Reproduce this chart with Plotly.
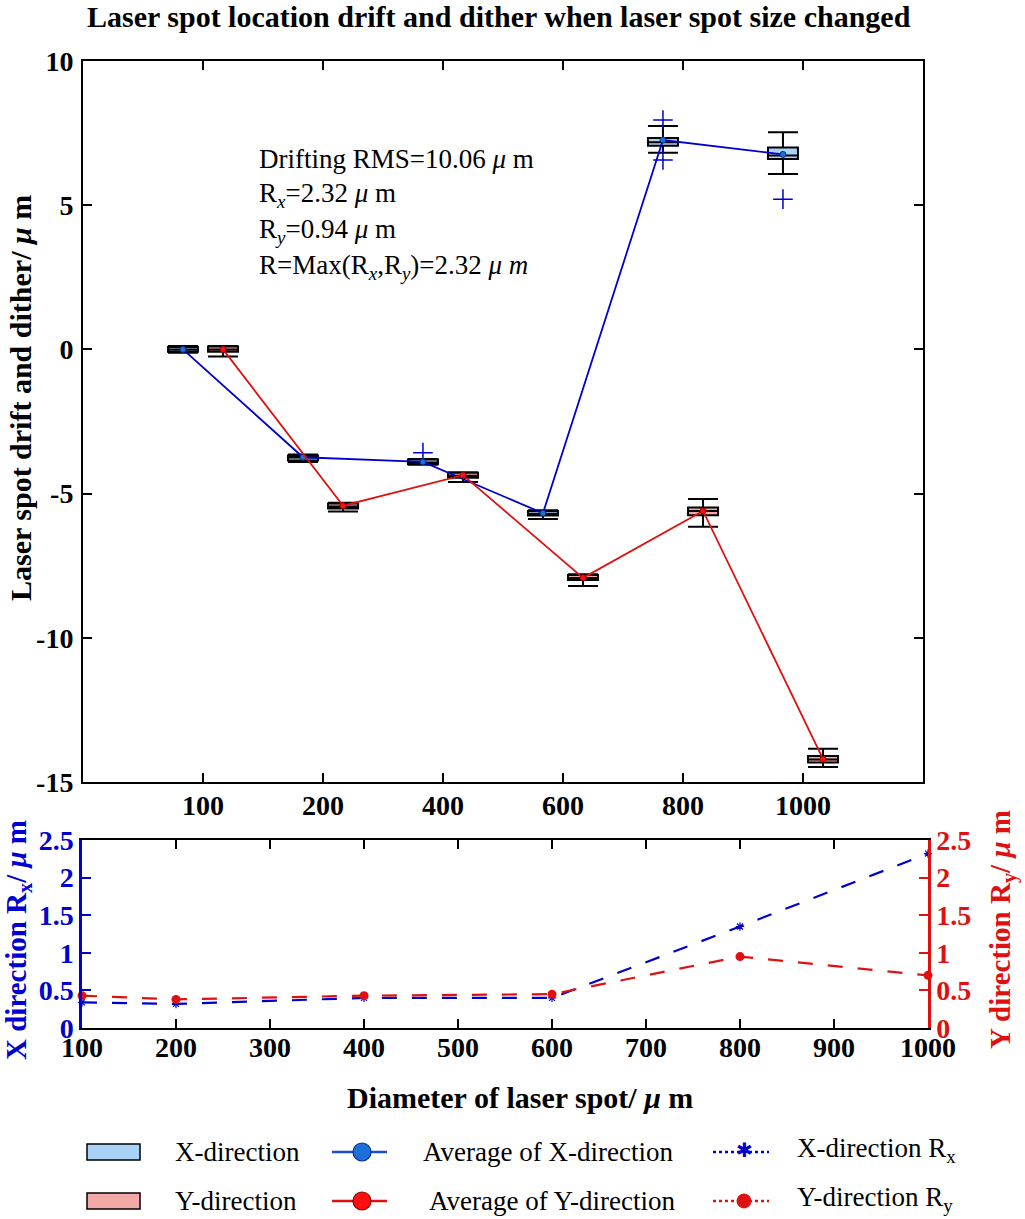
import plotly.graph_objects as go

FONT = "Liberation Serif"

# ---------------- data ----------------
categories = ["100", "200", "400", "600", "800", "1000"]
cat_index = [1, 2, 3, 4, 5, 6]

# X-direction box stats
x_q1 = [-0.08, -3.85, -3.98, -5.76, 7.06, 6.60]
x_med = [0.00, -3.75, -3.92, -5.70, 7.18, 6.72]
x_q3 = [0.08, -3.68, -3.82, -5.60, 7.33, 7.00]
x_lo = [-0.12, -3.90, -4.00, -5.88, 6.82, 6.08]
x_hi = [0.12, -3.64, -3.80, -5.58, 7.75, 7.53]
x_mean = [0.00, -3.74, -3.90, -5.68, 7.26, 6.76]
x_out_idx = [3, 5, 5, 6]
x_out_val = [-3.58, 7.95, 6.57, 5.21]

# Y-direction box stats
y_q1 = [-0.08, -5.52, -4.45, -8.00, -5.75, -14.32]
y_med = [0.00, -5.45, -4.38, -7.93, -5.60, -14.22]
y_q3 = [0.10, -5.34, -4.28, -7.82, -5.48, -14.10]
y_lo = [-0.25, -5.62, -4.60, -8.20, -6.15, -14.48]
y_hi = [0.12, -5.32, -4.26, -7.80, -5.19, -13.85]
y_mean = [0.00, -5.42, -4.36, -7.92, -5.60, -14.21]

# top-panel y ticks
top_yticks = [-15, -10, -5, 0, 5, 10]
top_yticktext = ["-15", "-10", "-5", "0", "5", "10"]

# Bottom panel: dither ranges
diam = [100, 200, 400, 600, 800, 1000]
rx = [0.34, 0.32, 0.40, 0.40, 1.35, 2.32]
ry = [0.43, 0.38, 0.43, 0.45, 0.95, 0.70]
bot_xticks = [100, 200, 300, 400, 500, 600, 700, 800, 900, 1000]
bot_yticks = [0, 0.5, 1, 1.5, 2, 2.5]
bot_yticktext = ["0", "0.5", "1", "1.5", "2", "2.5"]

OFF = 0.167
xpos_x = [c - OFF for c in cat_index]
xpos_y = [c + OFF for c in cat_index]
xout_pos = [i - OFF for i in x_out_idx]

BLUE = "#0000d0"
RED = "#e01010"

fig = go.Figure()

fig.add_trace(go.Box(
    x=xpos_x, q1=x_q1, median=x_med, q3=x_q3, lowerfence=x_lo, upperfence=x_hi,
    width=0.25, whiskerwidth=1, fillcolor="#a9d2f7",
    line=dict(color="black", width=2), boxpoints=False, showlegend=False,
    xaxis="x", yaxis="y", hoverinfo="skip"))
fig.add_trace(go.Box(
    x=xpos_y, q1=y_q1, median=y_med, q3=y_q3, lowerfence=y_lo, upperfence=y_hi,
    width=0.25, whiskerwidth=1, fillcolor="#f4a9a9",
    line=dict(color="black", width=2), boxpoints=False, showlegend=False,
    xaxis="x", yaxis="y", hoverinfo="skip"))

fig.add_trace(go.Scatter(
    x=xout_pos, y=x_out_val, mode="markers",
    marker=dict(symbol="cross-thin", size=14, line=dict(color=BLUE, width=1.5)),
    showlegend=False, xaxis="x", yaxis="y"))

fig.add_trace(go.Scatter(
    x=xpos_x, y=x_mean, mode="lines+markers",
    line=dict(color=BLUE, width=1.8),
    marker=dict(size=6, color="#1f6fd8", line=dict(color="#00308a", width=1)),
    showlegend=False, xaxis="x", yaxis="y"))
fig.add_trace(go.Scatter(
    x=xpos_y, y=y_mean, mode="lines+markers",
    line=dict(color=RED, width=1.8),
    marker=dict(size=6, color="#ff1010", line=dict(color="#a00000", width=1)),
    showlegend=False, xaxis="x", yaxis="y"))

# Bottom panel
fig.add_trace(go.Scatter(
    x=diam, y=rx, mode="lines+markers",
    line=dict(color=BLUE, width=2.2, dash="longdash"),
    marker=dict(symbol="asterisk-open", size=7, line=dict(color=BLUE, width=1.2)),
    showlegend=False, xaxis="x2", yaxis="y2", cliponaxis=False))
fig.add_trace(go.Scatter(
    x=diam, y=ry, mode="lines+markers",
    line=dict(color=RED, width=2.2, dash="longdash"),
    marker=dict(symbol="circle", size=9, color=RED),
    showlegend=False, xaxis="x2", yaxis="y3", cliponaxis=False))

W, H = 1025, 1219
def px(x):
    return x / W
def py(y):
    return 1 - y / H

tickfont = dict(family=FONT, size=28, color="black", weight="bold")
TITLE_SIZE = 30

fig.update_layout(
    width=W, height=H, margin=dict(l=0, r=0, t=0, b=0, autoexpand=False),
    paper_bgcolor="white", plot_bgcolor="white",
    boxmode="overlay", showlegend=False,
    font=dict(family=FONT, color="black"),
    xaxis=dict(domain=[px(83), px(923)], range=[0, 7], tickvals=cat_index, ticktext=categories,
               ticks="inside", ticklen=9, tickwidth=2, tickcolor="black",
               showline=True, linecolor="black", linewidth=2, mirror="ticks",
               showgrid=False, zeroline=False, tickfont=tickfont, anchor="y", automargin=False,
               ticklabelstandoff=-3),
    yaxis=dict(domain=[py(782), py(61)], range=[-15, 10], tickvals=top_yticks, ticktext=top_yticktext,
               ticks="inside", ticklen=9, tickwidth=2, tickcolor="black",
               showline=True, linecolor="black", linewidth=2, mirror="ticks",
               showgrid=False, zeroline=False, tickfont=tickfont, anchor="x", automargin=False,
               ticklabelstandoff=2),
    xaxis2=dict(domain=[px(82), px(928)], range=[100, 1000],
                tickvals=bot_xticks,
                ticks="inside", ticklen=9, tickwidth=2, tickcolor="black",
                showline=True, linecolor="black", linewidth=2, mirror="ticks",
                showgrid=False, zeroline=False, tickfont=tickfont, anchor="y2", automargin=False,
                ticklabelstandoff=-7),
    yaxis2=dict(domain=[py(1028), py(840)], range=[0, 2.5], tickvals=bot_yticks,
                ticktext=bot_yticktext,
                ticks="inside", ticklen=9, tickwidth=2, tickcolor=BLUE,
                showline=True, linecolor=BLUE, linewidth=2.5,
                showgrid=False, zeroline=False, anchor="x2", automargin=False,
                tickfont=dict(family=FONT, size=28, color=BLUE, weight="bold")),
    yaxis3=dict(range=[0, 2.5], tickvals=bot_yticks,
                ticktext=bot_yticktext,
                overlaying="y2", side="right", anchor="x2", automargin=False,
                ticks="inside", ticklen=9, tickwidth=2, tickcolor=RED,
                showline=True, linecolor=RED, linewidth=2.5,
                showgrid=False, zeroline=False,
                tickfont=dict(family=FONT, size=28, color=RED, weight="bold")),
)

# Title
fig.add_annotation(xref="paper", yref="paper", x=px(499), y=py(16), xanchor="center", yanchor="middle",
                   text="<b>Laser spot location drift and dither when laser spot size changed</b>",
                   showarrow=False, font=dict(family=FONT, size=30, color="black"))

# Axis titles
fig.add_annotation(xref="paper", yref="paper", x=px(20), y=py(398), xanchor="center", yanchor="middle",
                   textangle=-90, showarrow=False,
                   text="<b>Laser spot drift and dither/ <i>μ</i> m</b>",
                   font=dict(family=FONT, size=TITLE_SIZE, color="black"))
fig.add_annotation(xref="paper", yref="paper", x=px(18), y=py(940), xanchor="center", yanchor="middle",
                   textangle=-90, showarrow=False,
                   text="<b>X direction R<sub>x</sub>/ <i>μ</i> m</b>",
                   font=dict(family=FONT, size=29, color=BLUE))
fig.add_annotation(xref="paper", yref="paper", x=px(1002), y=py(930), xanchor="center", yanchor="middle",
                   textangle=-90, showarrow=False,
                   text="<b>Y direction R<sub>y</sub>/ <i>μ</i> m</b>",
                   font=dict(family=FONT, size=29, color=RED))
fig.add_annotation(xref="paper", yref="paper", x=px(520), y=py(1097), xanchor="center", yanchor="middle",
                   showarrow=False,
                   text="<b>Diameter of laser spot/ <i>μ</i> m</b>",
                   font=dict(family=FONT, size=TITLE_SIZE, color="black"))

# Stats text
stats_lines = [
    "Drifting RMS=10.06 <i>μ</i> m",
    "R<sub><i>x</i></sub>=2.32 <i>μ</i> m",
    "R<sub><i>y</i></sub>=0.94 <i>μ</i> m",
    "R=Max(R<sub><i>x</i></sub>,R<sub><i>y</i></sub>)=2.32 <i>μ m</i>",
]
for i, t in enumerate(stats_lines):
    fig.add_annotation(xref="paper", yref="paper", x=px(257), y=py(159 + 36 * i),
                       xanchor="left", yanchor="middle", text=t, showarrow=False,
                       font=dict(family=FONT, size=27, color="black"))

# Manual legend
leg_font = dict(family=FONT, size=27, color="black")
rows = [1152, 1201]
box_fill = ["#a9d2f7", "#f4a9a9"]
box_lbl = ["X-direction", "Y-direction"]
avg_lbl = ["Average of X-direction", "Average of Y-direction"]
avg_col = [("#1a4fd0", "#1f6fd8", "#00308a"), ("#e01010", "#ff1010", "#900000")]
r_lbl = ["X-direction R<sub>x</sub>", "Y-direction R<sub>y</sub>"]
avg_txt_x = [421, 427]
for k, yy in enumerate(rows):
    fig.add_shape(type="rect", xref="paper", yref="paper",
                  x0=px(87), x1=px(140), y0=py(yy - 8), y1=py(yy + 8),
                  fillcolor=box_fill[k], line=dict(color="black", width=1.5))
    fig.add_annotation(xref="paper", yref="paper", x=px(173), y=py(yy), xanchor="left", yanchor="middle",
                       text=box_lbl[k], showarrow=False, font=leg_font)
    lc, fc, ec = avg_col[k]
    fig.add_shape(type="line", xref="paper", yref="paper",
                  x0=px(332), x1=px(387), y0=py(yy), y1=py(yy), line=dict(color=lc, width=2.5))
    fig.add_shape(type="circle", xref="paper", yref="paper",
                  x0=px(353), x1=px(371), y0=py(yy - 9), y1=py(yy + 9),
                  fillcolor=fc, line=dict(color=ec, width=1.2))
    fig.add_annotation(xref="paper", yref="paper", x=px(avg_txt_x[k]), y=py(yy), xanchor="left", yanchor="middle",
                       text=avg_lbl[k], showarrow=False, font=leg_font)
    col = BLUE if k == 0 else RED
    fig.add_shape(type="line", xref="paper", yref="paper",
                  x0=px(713), x1=px(769), y0=py(yy), y1=py(yy), line=dict(color=col, width=2.5, dash="dot"))
    if k == 0:
        fig.add_annotation(xref="paper", yref="paper", x=px(744), y=py(yy - 2), xanchor="center", yanchor="middle",
                           text="✱", showarrow=False, font=dict(family="DejaVu Sans", size=20, color=BLUE))
    else:
        fig.add_shape(type="circle", xref="paper", yref="paper",
                      x0=px(737), x1=px(751), y0=py(yy - 7), y1=py(yy + 7),
                      fillcolor=RED, line=dict(color=RED, width=1))
    fig.add_annotation(xref="paper", yref="paper", x=px(795), y=py(yy - 2), xanchor="left", yanchor="middle",
                       text=r_lbl[k], showarrow=False, font=leg_font)

fig.write_html("out.html")
